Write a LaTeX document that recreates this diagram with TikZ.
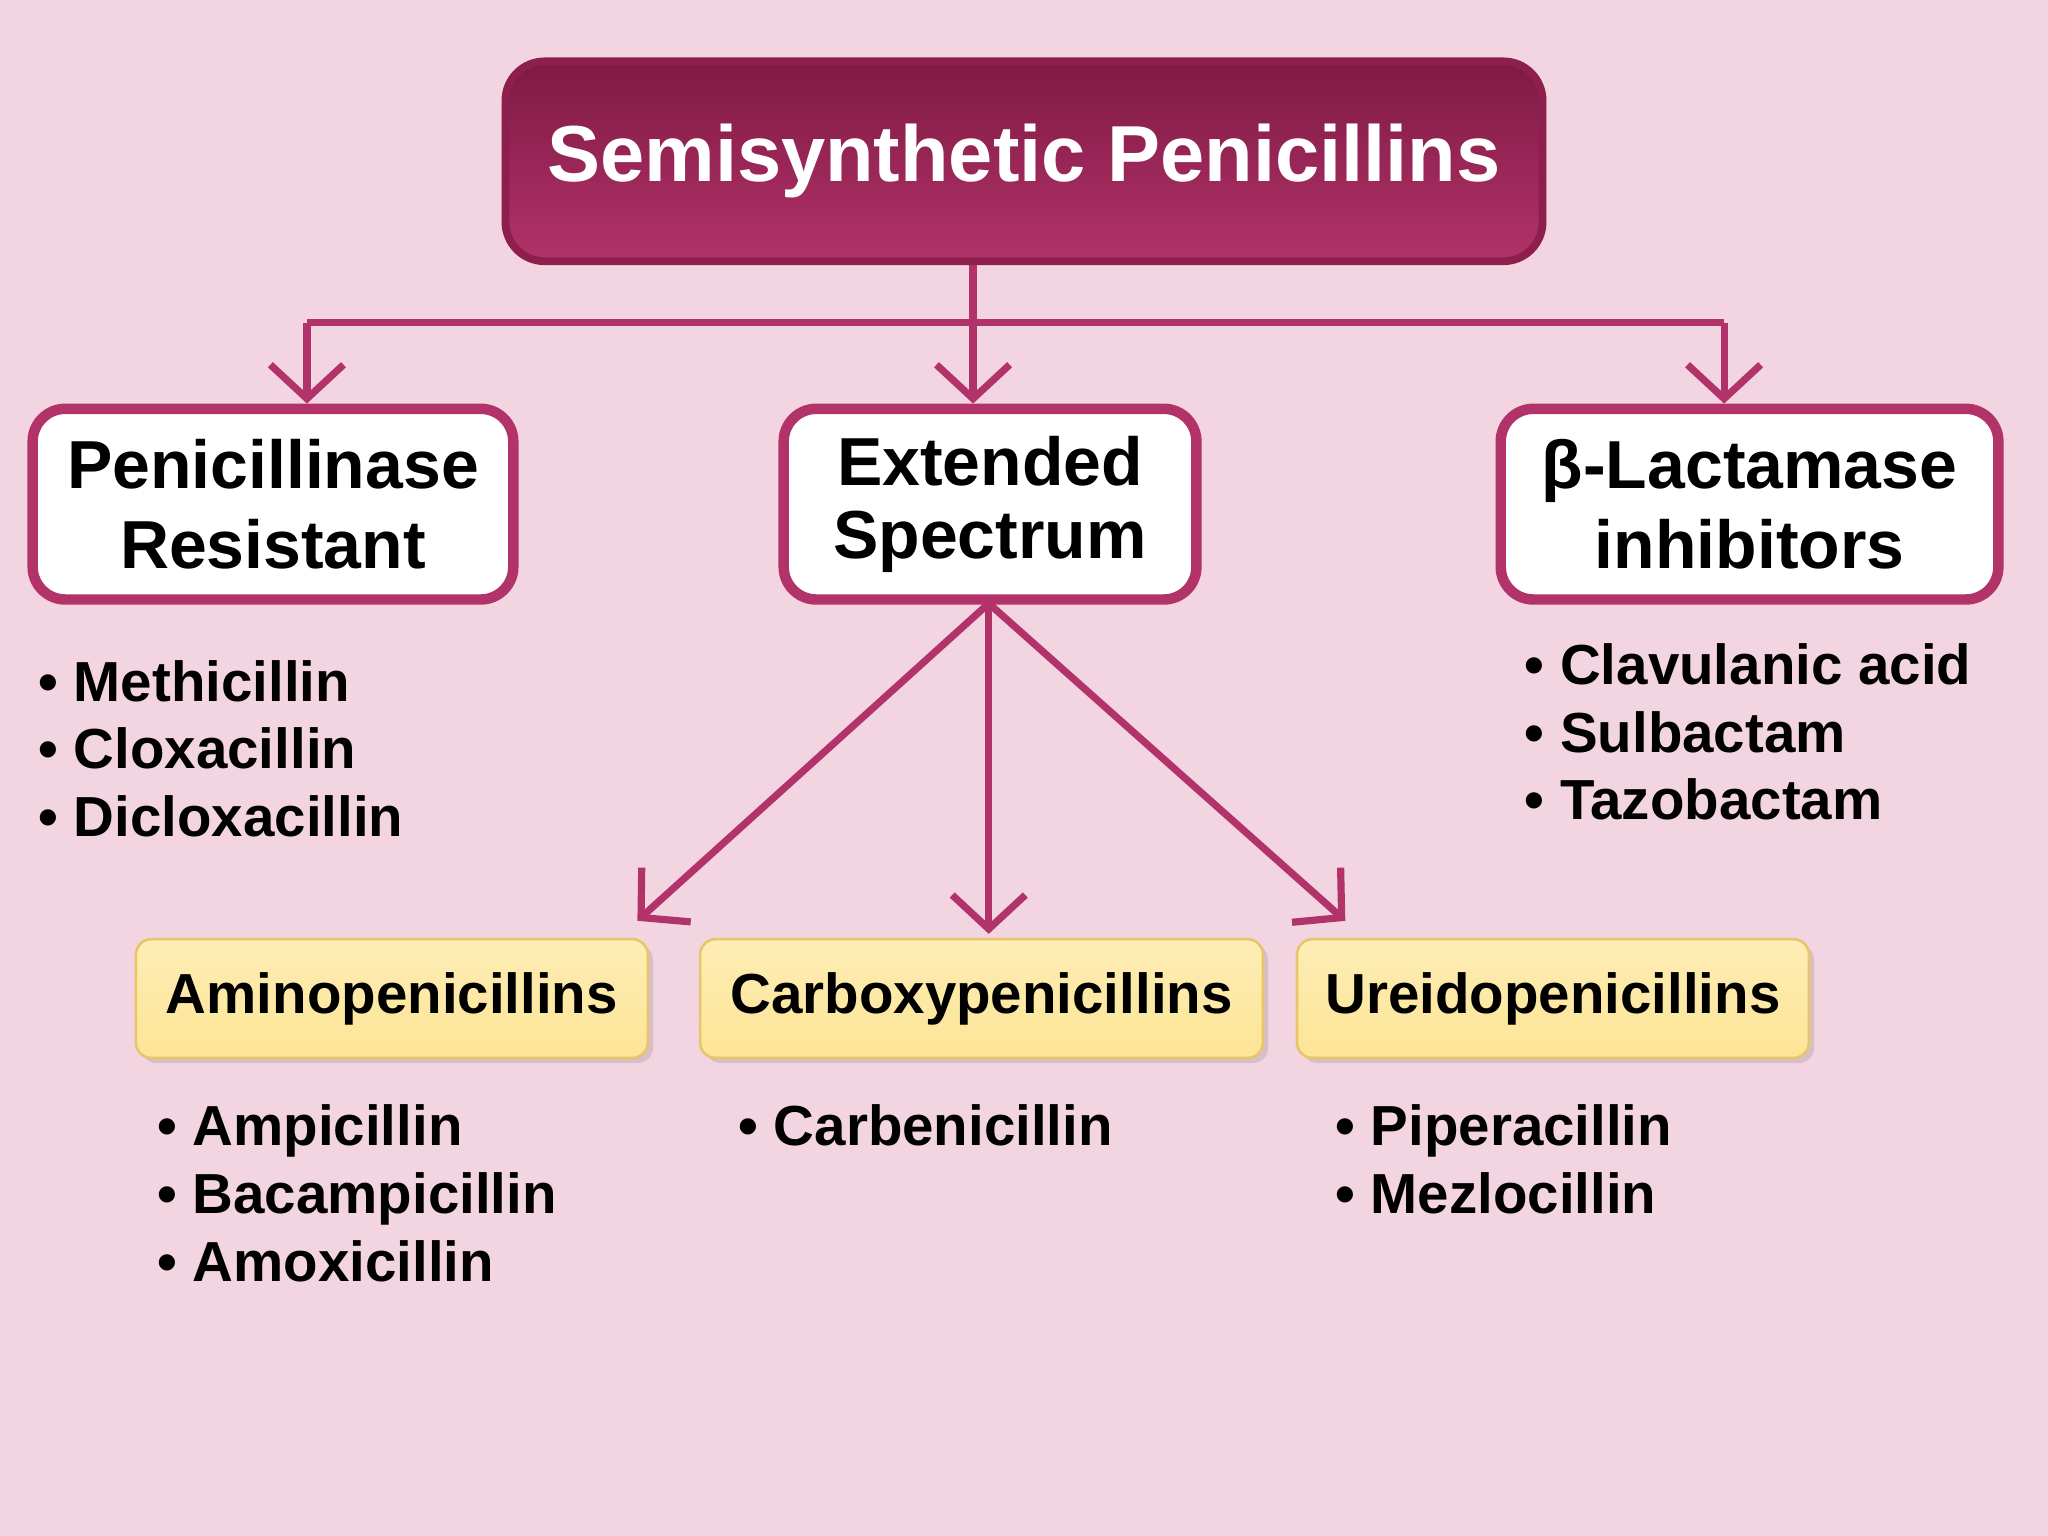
\documentclass[tikz,border=0pt]{standalone}
\usepackage{fontspec}
\setmainfont{Liberation Sans}
\usetikzlibrary{arrows.meta,shadows}
\definecolor{bgpink}{HTML}{F3D5E2}
\definecolor{mag}{HTML}{B2326A}
\definecolor{magdark}{HTML}{8E1E4C}
\definecolor{magtop}{HTML}{7E1A42}
\definecolor{ylw}{HTML}{FDE596}
\definecolor{ylwb}{HTML}{E9C569}
\tikzset{
  conn/.style={draw=mag,line width=0.055cm,-{Straight Barb[length=2.6mm,width=5.6mm,line width=0.055cm]}},
  line/.style={draw=mag,line width=0.055cm},
  catbox/.style={draw=mag,line width=0.08cm,fill=white,rounded corners=0.25cm,align=center,inner sep=1pt,font=\bfseries\fontsize{14.8}{17.4}\selectfont},
  subbox/.style={draw=ylwb,line width=0.02cm,top color=ylw!70!white,bottom color=ylw,rounded corners=0.12cm,inner sep=1pt,font=\bfseries\fontsize{12.3}{15}\selectfont,drop shadow={opacity=0.25,shadow xshift=0.04cm,shadow yshift=-0.04cm}},
  blist/.style={anchor=north west,align=left,font=\bfseries\fontsize{12.3}{14.8}\selectfont},
}
\begin{document}
\begin{tikzpicture}
\fill[bgpink] (0,0) rectangle (15.68,-11.76);
\useasboundingbox (0,0) rectangle (15.68,-11.76);
% title
\node[draw=magdark,line width=0.06cm,rounded corners=0.3cm,top color=magtop,bottom color=mag,minimum width=7.94cm,minimum height=1.53cm,text=white,font=\bfseries\fontsize{17.3}{21}\selectfont] (title) at (7.84,-1.235) {\raisebox{-0.08cm}{Semisynthetic Penicillins}};
% categories
\node[catbox,minimum width=3.68cm,minimum height=1.46cm] (pr) at (2.09,-3.86) {Penicillinase\\Resistant};
\node[catbox,minimum width=3.16cm,minimum height=1.46cm] (es) at (7.58,-3.86) {\raisebox{-0.05cm}{Extended}\\Spectrum};
\node[catbox,minimum width=3.81cm,minimum height=1.46cm] (bl) at (13.395,-3.86) {β-Lactamase\\inhibitors};
% connectors from title
\coordinate (j) at (7.45,-2.47);
\coordinate (jl) at (2.35,-2.47);
\coordinate (jr) at (13.2,-2.47);
\draw[line] (title.south -| j) -- (j);
\draw[line] (jl) -- (jr);
\draw[conn] (jl) -- (jl |- pr.north);
\draw[conn] (j) -- (j |- es.north);
\draw[conn] (jr) -- (jr |- bl.north);
% sub boxes
\node[subbox,minimum width=3.92cm,minimum height=0.91cm] (am) at (3.0,-7.645) {Aminopenicillins};
\node[subbox,minimum width=4.31cm,minimum height=0.91cm] (ca) at (7.515,-7.645) {Carboxypenicillins};
\node[subbox,minimum width=3.92cm,minimum height=0.91cm] (ur) at (11.89,-7.645) {Ureidopenicillins};
\coordinate (es0) at (7.57,-4.62);
\draw[conn] (es0) -- (4.88,-7.05);
\draw[conn] (es0) -- (7.57,-7.15);
\draw[conn] (es0) -- (10.3,-7.05);
% lists
\node[blist] (l1) at (0.17,-4.93) {• Methicillin\\• Cloxacillin\\• Dicloxacillin};
\node[blist] (l2) at (11.55,-4.80) {• Clavulanic acid\\• Sulbactam\\• Tazobactam};
\node[blist] (l3) at (1.08,-8.33) {• Ampicillin\\• Bacampicillin\\• Amoxicillin};
\node[blist] (l4) at (5.53,-8.33) {• Carbenicillin};
\node[blist] (l5) at (10.1,-8.33) {• Piperacillin\\• Mezlocillin};
\end{tikzpicture}
\end{document}
